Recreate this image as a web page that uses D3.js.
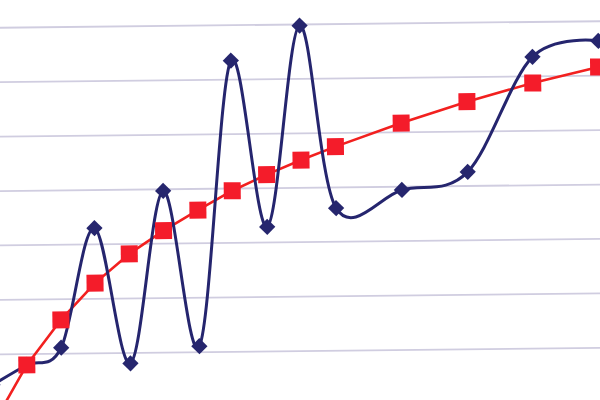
<!DOCTYPE html>
<html>
<head>
<meta charset="utf-8">
<script src="https://cdn.jsdelivr.net/npm/d3@7"></script>
<style>
  html, body { margin: 0; padding: 0; background: #ffffff; overflow: hidden; }
  svg { display: block; }
</style>
</head>
<body>
<svg id="chart" width="600" height="400"></svg>
<script>
// ---- data ----
const categories = [0, 1, 2, 3, 4, 5, 6, 7, 8, 9, 10, 12, 14, 16, 18];
const navySeries = [4.3, 7.9, 11.0, 32.9, 8.0, 39.6, 11.0, 63.4, 32.8, 69.7, 36.1, 39.3, 42.5, 63.5, 66.3];
const redSeries  = [-3.0, 7.9, 16.1, 22.8, 28.1, 32.3, 36.0, 39.5, 42.4, 45.0, 47.4, 51.6, 55.4, 58.7, 61.5];
const gridTicks  = [10, 20, 30, 40, 50, 60, 70];

const W = 600, H = 400;
const svg = d3.select("#chart");
const g = svg.append("g").attr("transform", "rotate(-0.62, 300, 200)");

const x = d3.scaleLinear().domain([0, 10, 18]).range([-9.5, 336, 600]);
const y = d3.scaleLinear().domain([0, 70]).range([405, 24]);

// gridlines
const axis = d3.axisLeft(y).tickValues(gridTicks).tickSize(-(W + 60)).tickFormat("");
const ga = g.append("g").attr("transform", "translate(-30,0)").call(axis);
ga.select(".domain").remove();
ga.selectAll(".tick line").attr("stroke", "#d0cde0").attr("stroke-width", 1.8);

const navyPts = categories.map((c, i) => [c, navySeries[i]]);
const redPts = categories.map((c, i) => [c, redSeries[i]]);

const navyLine = d3.line().x(d => x(d[0])).y(d => y(d[1])).curve(d3.curveCardinal.tension(0));
const redLine = d3.line().x(d => x(d[0])).y(d => y(d[1])).curve(d3.curveLinear);

g.append("path").datum(redPts).attr("d", redLine)
  .attr("fill", "none").attr("stroke", "#f2201f").attr("stroke-width", 2.6).attr("stroke-linejoin", "round");
g.append("path").datum(navyPts).attr("d", navyLine)
  .attr("fill", "none").attr("stroke", "#25256e").attr("stroke-width", 3).attr("stroke-linejoin", "round");

// navy diamonds
const ds = 11.5;
g.selectAll(".dia").data(navyPts).enter().append("rect")
  .attr("class", "dia")
  .attr("x", -ds / 2).attr("y", -ds / 2).attr("width", ds).attr("height", ds)
  .attr("transform", d => `translate(${x(d[0])},${y(d[1])}) rotate(45)`)
  .attr("fill", "#26266e");

// red squares
const ss = 17;
g.selectAll(".sq").data(redPts).enter().append("rect")
  .attr("class", "sq")
  .attr("x", d => x(d[0]) - ss / 2).attr("y", d => y(d[1]) - ss / 2)
  .attr("width", ss).attr("height", ss)
  .attr("fill", "#f41c2a");
</script>
</body>
</html>
